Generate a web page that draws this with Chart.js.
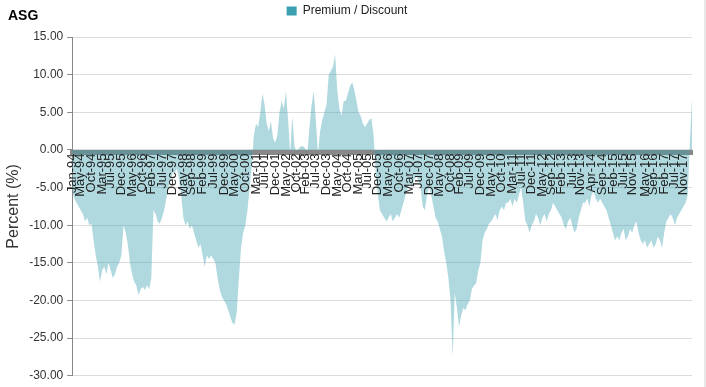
<!DOCTYPE html>
<html>
<head>
<meta charset="utf-8">
<script src="https://cdn.jsdelivr.net/npm/chart.js@4.4.1/dist/chart.umd.min.js"></script>
<style>
  body { margin: 0; background: #fff; }
  #wrap { position: relative; width: 706px; height: 387px; }
  #ttl { position: absolute; left: 8px; top: 7px; font: bold 14px "Liberation Sans", Arial, sans-serif; line-height: 16px; color: #000; }
  #edge { position: absolute; left: 704px; top: 0; width: 2px; height: 387px; background: #e8e8e8; }
</style>
</head>
<body>
<div id="wrap">
  <canvas id="chart" width="706" height="387"></canvas>
  <div id="ttl">ASG</div>
  <div id="edge"></div>
</div>
<script>
// monthly premium / discount (%), Jan-94 .. Mar-18, one row per year
const premDisc = [
  -5.5, -6.5, -7, -7.5, -8, -8.5, -9.5, -9, -10, -9.8, -12, -14,
  -15.5, -17.5, -16, -15.5, -16.5, -15, -16, -17, -16.5, -15.5, -15, -14,
  -10, -11, -12.5, -15, -16.5, -17.5, -18, -19.3, -18.5, -18.2, -18.6, -18,
  -18.5, -17, -8, -8.5, -9.5, -9.8, -9, -8, -6.5, -5, -4, -3,
  -3, -2.5, -4, -6, -9, -10, -9.5, -10.5, -10, -11, -12, -13,
  -12.5, -14, -15.5, -14, -14.5, -14, -14.5, -15, -17, -18.5, -19.5, -20,
  -20.5, -21.3, -22.2, -23, -23.2, -21.5, -17, -13, -11, -10, -8, -5,
  -2, 2, 3.5, 3, 5, 7.5, 6, 3.5, 2.5, 3.8, 1.5, 1,
  2, 5, 6.5, 5.5, 7.8, 4, -0.5, 4.5, 0.5, -0.3, 0.2, 0.5,
  0.5, 0.2, -0.5, 3, 6, 7.8, 4, -0.5, 2.5, 4, 5, 6,
  10, 10.5, 11, 12.7, 8, 5.5, 4.5, 6.5, 6.5, 7.5, 8.5, 9,
  8, 6.5, 5, 4.5, 3.5, 3, 3.5, 4, 4.2, 2, -3, -6,
  -8, -8.5, -9, -9.5, -9, -8.5, -9.5, -9, -8.5, -9, -8, -7,
  -6, -5, -4.5, -5, -4, -3.5, -4, -5, -7.5, -8, -6, -5,
  -6, -7.5, -9, -9.5, -10.5, -11.5, -13.5, -15, -17, -20, -27.5, -19,
  -21, -23.5, -22, -21, -21.3, -20.5, -20, -18.5, -18, -17.7, -16, -15,
  -12, -11, -10.5, -9.8, -9.5, -9, -8.5, -9.3, -8, -7.5, -8, -7,
  -7, -6.5, -7.5, -6.5, -7, -6, -5, -7, -9.4, -10, -11, -10,
  -9.5, -8.5, -9, -10, -9, -8.5, -9.5, -8.5, -8, -7, -7.5, -8,
  -8.5, -9, -10, -10.5, -9.5, -9, -10, -11, -10.5, -9, -8, -7,
  -7, -6.5, -7.5, -6, -5.5, -6.5, -7, -6.5, -7, -7.5, -8, -9,
  -10, -11, -12, -11.5, -12, -11, -10.5, -12, -11.5, -10.5, -11, -10,
  -9.5, -11, -12, -12.5, -12, -13, -12.5, -12, -13, -12.5, -11.5, -12,
  -13, -11, -9.5, -9, -8.5, -9, -10, -9, -8.5, -8, -7.5, -7,
  -6, 1, 6.8
];

// labels that show on the x axis
const tickLabels = ['Jan-94','May-94','Oct-94','Mar-95','Jul-95','Dec-95','May-96','Oct-96','Feb-97','Jul-97',
  'Dec-97','May-98','Sep-98','Feb-99','Jul-99','Dec-99','May-00','Oct-00','Mar-01','Jul-01',
  'Dec-01','May-02','Oct-02','Feb-03','Jul-03','Dec-03','May-04','Oct-04','Mar-05','Jul-05',
  'Dec-05','May-06','Oct-06','Mar-07','Jul-07','Dec-07','May-08','Oct-08','Feb-09','Jul-09',
  'Dec-09','May-10','Oct-10','Mar-11','Jul-11','Dec-11','May-12','Sep-12','Feb-13','Jul-13',
  'Nov-13','Apr-14','Sep-14','Feb-15','Jul-15','Nov-15','May-16','Sep-16','Feb-17','Jul-17','Nov-17'];

const monthNames = ['Jan','Feb','Mar','Apr','May','Jun','Jul','Aug','Sep','Oct','Nov','Dec'];
const months = premDisc.map((v, i) => monthNames[i % 12] + '-' + String((94 + Math.floor(i / 12)) % 100).padStart(2, '0'));

Chart.defaults.font.family = '"Liberation Sans", Arial, sans-serif';
Chart.defaults.font.size = 12;
Chart.defaults.color = '#333';

// extra room under the legend so the plot starts lower
const legendGap = {
  id: 'legendGap',
  beforeInit(chart) {
    const fit = chart.legend.fit;
    chart.legend.fit = function () {
      fit.bind(chart.legend)();
      this.height += 10;
    };
  }
};

const ctx = document.getElementById('chart').getContext('2d');
new Chart(ctx, {
  type: 'line',
  data: {
    labels: months,
    datasets: [{
      label: 'Premium / Discount',
      data: premDisc,
      fill: 'origin',
      backgroundColor: 'rgba(58,160,176,0.4)',
      borderColor: 'rgba(0,0,0,0)',
      borderWidth: 0,
      pointRadius: 0,
      tension: 0
    }]
  },
  options: {
    responsive: false,
    animation: false,
    layout: { padding: { left: 2, right: 14, top: 0, bottom: 11 } },
    plugins: {
      legend: {
        labels: {
          boxWidth: 10,
          boxHeight: 9,
          padding: 5,
          color: '#222',
          generateLabels: chart => Chart.defaults.plugins.legend.labels.generateLabels(chart)
            .map(l => ({ ...l, fillStyle: '#3aa0b0', strokeStyle: '#3aa0b0', lineWidth: 0 }))
        }
      },
      tooltip: { enabled: false }
    },
    scales: {
      x: {
        position: { y: -0.33 },
        grid: { display: false, drawTicks: false },
        border: { display: true, color: '#888', width: 5 },
        ticks: {
          autoSkip: false,
          minRotation: 90,
          maxRotation: 90,
          padding: 1,
          z: 1,
          color: '#222',
          font: { size: 13 },
          callback: function (v) {
            const l = this.getLabelForValue(v);
            return tickLabels.includes(l) ? l : null;
          }
        }
      },
      y: {
        min: -30,
        max: 15,
        ticks: { stepSize: 5, padding: 4, color: '#333', callback: v => v.toFixed(2) },
        grid: { color: '#dcdcdc', tickColor: '#888', tickLength: 5 },
        border: { color: '#888' },
        title: { display: true, text: 'Percent (%)', font: { size: 16 }, color: '#333', padding: 2 }
      }
    }
  },
  plugins: [legendGap]
});
</script>
</body>
</html>
